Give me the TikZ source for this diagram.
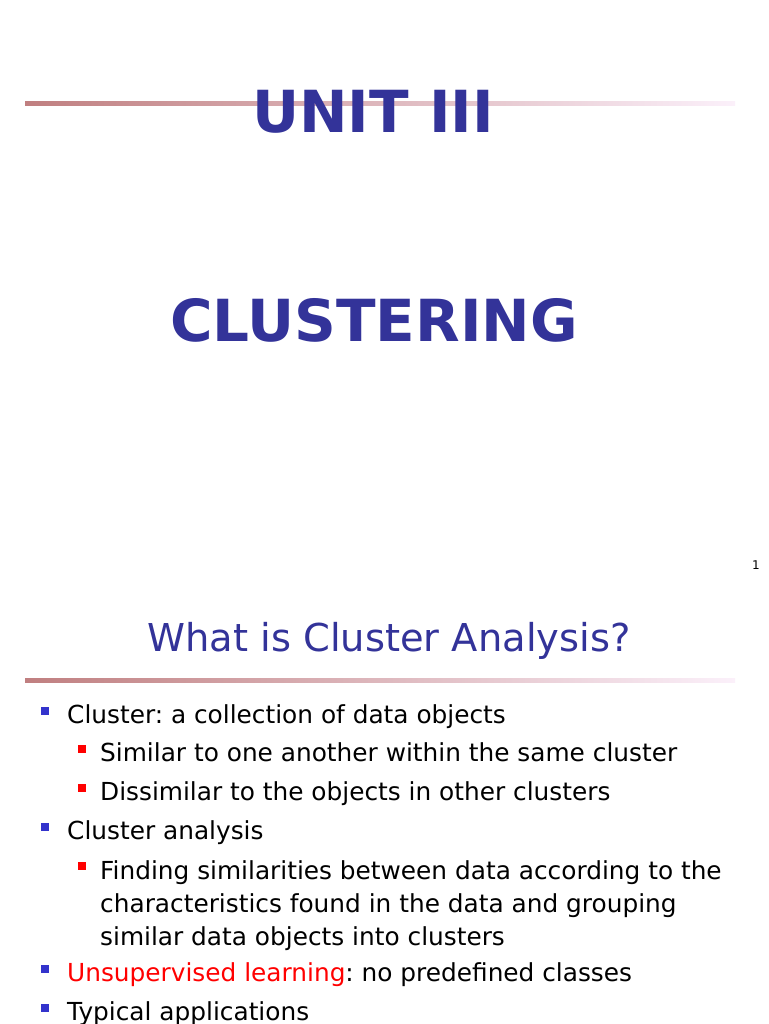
\documentclass[tikz,border=0pt]{standalone}
\usepackage{fontspec}
\setmainfont{DejaVu Sans}
\frenchspacing
\definecolor{ttl}{HTML}{333399}
\definecolor{bblue}{HTML}{3333CC}
\definecolor{lnL}{HTML}{C07F80}
\definecolor{lnR}{HTML}{FBF0FA}
\begin{document}
\begin{tikzpicture}[x=1pt,y=-1pt,
  body/.style={anchor=base west,inner sep=0pt,font=\fontsize{24.8}{33}\selectfont\frenchspacing,align=left},
  bsq/.style={fill=bblue,minimum size=8pt,inner sep=0pt},
  rsq/.style={fill=red,minimum size=8pt,inner sep=0pt}]
\useasboundingbox (0,0) rectangle (768,1024);
\shade[left color=lnL,right color=lnR] (25,102) rectangle (735,106);
\shade[left color=lnL,right color=lnR] (25,678) rectangle (735,682);
\node (unit) [anchor=base,inner sep=0pt,text=ttl,font=\fontsize{58}{60}\selectfont\bfseries] at (373,133) {UNIT III};
\node (clus) [anchor=base,inner sep=0pt,text=ttl,font=\fontsize{58}{60}\selectfont\bfseries] at (374,341) {CLUSTERING};
\node (pg) [anchor=base,inner sep=0pt,font=\fontsize{12}{14}\selectfont] at (756,569) {1};
\node (what) [anchor=base,inner sep=0pt,text=ttl,font=\fontsize{38.4}{40}\selectfont] at (389,651) {What is Cluster Analysis?};
\node (b1) [bsq] at (45,711) {};
\node (t1) [body] at (67,723) {Cluster: a collection of data objects};
\node (r1) [rsq] at (82,749) {};
\node (t2) [body] at (100,761) {Similar to one another within the same cluster};
\node (r2) [rsq] at (82,788) {};
\node (t3) [body] at (100,800) {Dissimilar to the objects in other clusters};
\node (b2) [bsq] at (45,827) {};
\node (t4) [body] at (67,839) {Cluster analysis};
\node (r3) [rsq] at (82,866) {};
\node (t5) [body,anchor=north west] at (100,860) {Finding similarities between data according to the\\characteristics found in the data and grouping\\similar data objects into clusters};
\node (b3) [bsq] at (45,969) {};
\node (t6) [body] at (67,981) {\textcolor{red}{Unsupervised learning}: no predefined classes};
\node (b4) [bsq] at (45,1008) {};
\node (t7) [body] at (67,1020) {Typical applications};
\end{tikzpicture}
\end{document}
